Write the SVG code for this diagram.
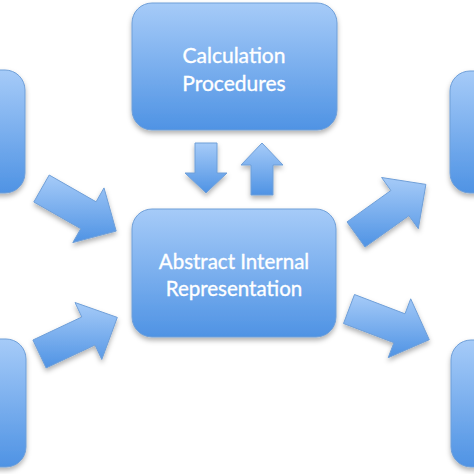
<svg xmlns="http://www.w3.org/2000/svg" width="474" height="474" viewBox="0 0 474 474">
<defs>
<linearGradient id="g" x1="0" y1="0" x2="0" y2="1">
<stop offset="0" stop-color="#a6cbf8"/>
<stop offset="1" stop-color="#4f93e4"/>
</linearGradient>
<filter id="sh" x="-20%" y="-20%" width="140%" height="150%">
<feDropShadow dx="0" dy="3" stdDeviation="2.5" flood-color="#000" flood-opacity="0.3"/>
</filter>
<style>
.box{fill:url(#g);stroke:#6f9fd8;stroke-width:1;filter:url(#sh)}
.arr{fill:url(#g);stroke:#6f9fd8;stroke-width:1;filter:url(#sh)}
.t{font-family:Lato,"Open Sans","Liberation Sans",sans-serif;fill:#fff;stroke:#fff;stroke-width:0.35;text-anchor:middle}
</style>
</defs>
<rect width="474" height="474" fill="#fff"/>
<g id="connectors">
<polygon class="arr" points="49.2,175 96.1,201.8 104,187.9 116.2,231.1 72.8,242.6 80.7,228.7 33.8,202"/>
<polygon class="arr" points="32.9,340 81.8,317 75,302.5 117.3,317.4 101.8,359.5 95,345 46.1,368"/>
<polygon class="arr" points="347,221.9 390.9,190.5 381.6,177.5 425.9,184.4 418.3,228.7 408.9,215.7 365,247.1"/>
<polygon class="arr" points="354.5,294.5 405,313.8 410.7,298.8 429.3,339.7 388.2,357.7 393.9,342.7 343.5,323.5"/>
<polygon class="arr" points="195,143 217,143 217,173 227,173 206,193 185,173 195,173"/>
<polygon class="arr" points="262,143 283,165 273,165 273,195 251,195 251,165 241,165"/>
</g>
<g id="left-top"><rect class="box" x="-80" y="70" width="105" height="123" rx="20"/></g>
<g id="left-bottom"><rect class="box" x="-80" y="339" width="106" height="128" rx="20"/></g>
<g id="right-top"><rect class="box" x="450" y="71" width="110" height="122" rx="20"/></g>
<g id="right-bottom"><rect class="box" x="451" y="340" width="110" height="127" rx="20"/></g>
<g id="calc">
<rect class="box" x="132" y="3" width="205" height="127" rx="20"/>
<text class="t" x="234" y="63" font-size="21">Calculation</text>
<text class="t" x="234" y="91" font-size="21">Procedures</text>
</g>
<g id="abstract">
<rect class="box" x="132" y="209" width="204" height="128" rx="20"/>
<text class="t" x="234" y="269" font-size="20.5">Abstract Internal</text>
<text class="t" x="234" y="296" font-size="20.5">Representation</text>
</g>
</svg>
